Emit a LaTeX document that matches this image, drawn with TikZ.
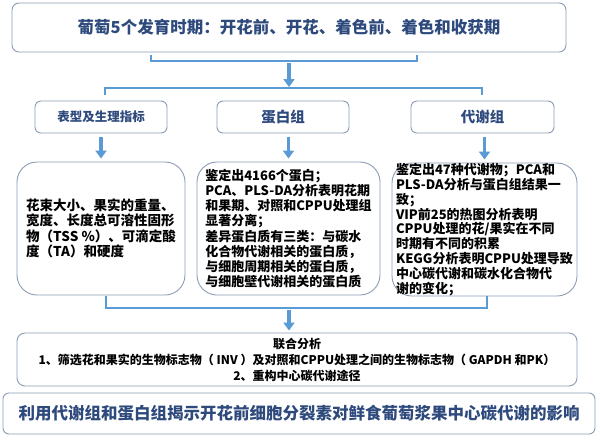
\documentclass[tikz,border=0pt]{standalone}
\usepackage{fontspec}
\setmainfont{Noto Sans CJK SC}
\usetikzlibrary{arrows.meta,positioning}
\definecolor{titleblue}{RGB}{46,74,125}
\definecolor{linkblue}{RGB}{91,155,213}
\definecolor{framegray}{RGB}{140,156,180}

\tikzset{
  frame/.style={draw=framegray, line width=0.9pt, fill=white},
  topbox/.style={frame, rounded corners=7pt, text=titleblue,
    font=\bfseries\fontsize{16.5}{18}\selectfont},
  headbox/.style={frame, rounded corners=6pt, minimum height=32pt, text=titleblue,
    font=\bfseries\fontsize{14.5}{16}\selectfont},
  infobox/.style={frame, rounded corners=20pt, minimum height=133pt, inner ysep=0pt,
    align=left, font=\bfseries\fontsize{13}{15.2}\selectfont},
  bracket/.style={draw=linkblue, line width=2pt},
  flow/.style={draw=linkblue, line width=3.5pt, -{Triangle[width=11pt,length=8pt]}},
}

\begin{document}
\begin{tikzpicture}[x=1pt,y=-1pt]
\useasboundingbox[fill=white] (0,0) rectangle (600,440);
% stages
\node[topbox, minimum width=554pt, minimum height=49pt] (stages) at (289,27.5)
  {葡萄5个发育时期：开花前、开花、着色前、着色和收获期};
% three data sets
\node[headbox, minimum width=132pt, font=\bfseries\fontsize{12.5}{14}\selectfont] (pheno) at (101,117) {表型及生理指标};
\node[headbox, minimum width=132pt] (prot) at (283,117) {蛋白组};
\node[headbox, minimum width=143pt] (metab) at (482.5,117) {代谢组};
\node[infobox, minimum width=168pt, font=\bfseries\fontsize{13.5}{15.5}\selectfont] (phenobox) at (101,228.5)
  {花束大小、果实的重量、\\宽度、长度总可溶性固形\\物（TSS \%）、可滴定酸\\度（TA）和硬度};
\node[infobox, minimum width=183pt] (protbox) at (288.5,228.5)
  {鉴定出4166个蛋白；\\PCA、PLS-DA分析表明花期\\和果期、对照和CPPU处理组\\显著分离；\\差异蛋白质有三类：与碳水\\化合物代谢相关的蛋白质，\\与细胞周期相关的蛋白质，\\与细胞壁代谢相关的蛋白质};
\node[infobox, minimum width=185pt, font=\bfseries\fontsize{13}{14.8}\selectfont] (metabbox) at (484.5,229.5)
  {鉴定出47种代谢物；PCA和\\PLS-DA分析与蛋白组结果一\\致；\\VIP前25的热图分析表明\\CPPU处理的花/果实在不同\\时期有不同的积累\\KEGG分析表明CPPU处理导致\\中心碳代谢和碳水化合物代\\谢的变化；};
% joint analysis
\node[frame, rounded corners=8pt, minimum width=560pt, minimum height=53pt, align=center,
  font=\bfseries\fontsize{12}{16}\selectfont] (joint) at (297,359.5)
  {联合分析\\1、筛选花和果实的生物标志物（ INV ）及对照和CPPU处理之间的生物标志物（ GAPDH 和PK）\\2、重构中心碳代谢途径};
\node[topbox, rounded corners=6pt, minimum width=592pt, minimum height=41pt] (result) at (299,413.5)
  {利用代谢组和蛋白组揭示开花前细胞分裂素对鲜食葡萄浆果中心碳代谢的影响};

% brackets
\coordinate (b1l) at (151,55); \coordinate (b1r) at (417,55);
\coordinate (b1m) at (289,61); \coordinate (b2m) at (289,88);
\draw[bracket] (b1l) -- ++(0,6) -| (b1r);
\coordinate (b2l) at (105,95); \coordinate (b2r) at (482,95);
\draw[bracket] (b2l) -- ++(0,-7) -| (b2r);
\coordinate (b3l) at (106,296); \coordinate (b3r) at (487,296);
\coordinate (b3m) at (289,308);
\draw[bracket] (b3l) -- ++(0,12) -| (b3r);

% arrows
\draw[flow, shorten <=2pt, shorten >=1pt] (b1m) -- (b2m);
\foreach \h/\b in {pheno/phenobox, prot/protbox, metab/metabbox}
    \draw[flow, shorten <=4pt, shorten >=3pt] (\h.south -| \b.north) -- (\b.north);
\draw[flow, shorten <=2pt, shorten >=2pt] (b3m) -- (joint.north -| b3m);
\end{tikzpicture}
\end{document}
